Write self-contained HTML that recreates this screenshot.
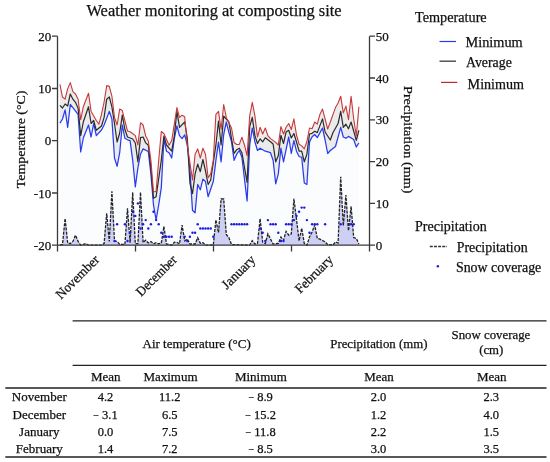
<!DOCTYPE html>
<html><head><meta charset="utf-8"><style>
html,body{margin:0;padding:0;background:#fff;}
svg{display:block;}
text{font-family:'Liberation Serif', 'DejaVu Serif', serif;fill:#111;stroke:#111;stroke-width:0.25px;}
</style></head><body>
<svg width="550" height="462" viewBox="0 0 550 462">
<rect width="550" height="462" fill="#fff"/>
<polygon points="59.9,123.2 62.5,119.0 65.1,109.8 67.7,127.3 70.3,104.5 72.9,107.6 78.1,114.4 80.7,152.0 83.3,138.0 88.5,125.0 91.1,137.0 93.7,123.5 96.3,135.6 101.5,130.0 104.1,125.0 109.3,111.4 111.9,119.0 114.5,158.0 117.1,166.4 119.7,152.7 122.3,125.0 124.9,138.3 127.5,139.8 130.1,140.6 132.7,160.3 135.3,186.8 137.9,167.9 140.5,154.2 143.1,148.9 148.3,151.5 150.9,174.0 153.5,205.0 156.1,219.9 158.7,205.0 161.3,187.6 163.9,139.0 166.5,151.2 169.1,152.7 171.7,158.0 174.3,139.0 176.9,125.8 179.5,135.6 182.1,138.6 184.7,134.8 187.3,145.0 189.9,169.4 192.5,210.5 195.1,212.8 197.7,184.5 200.3,189.8 202.9,179.2 205.5,181.5 208.1,196.7 213.3,181.5 215.9,160.3 218.5,142.0 221.1,161.8 223.7,134.5 226.3,122.0 228.9,132.6 231.5,141.7 234.1,160.3 236.7,154.2 239.3,150.5 241.9,157.3 247.1,201.0 249.7,145.2 252.3,128.0 254.9,141.7 257.5,150.5 260.1,148.2 265.3,151.2 270.5,152.7 273.1,160.3 275.7,183.8 278.3,173.9 280.9,148.2 283.5,161.8 288.7,137.0 291.3,153.5 293.9,140.6 296.5,151.2 299.1,156.5 301.7,157.3 304.3,183.0 306.9,184.5 309.5,142.1 312.1,136.8 314.7,134.5 317.3,137.6 322.5,128.0 325.1,140.0 327.7,153.5 330.3,150.5 335.5,146.5 340.7,127.3 343.3,137.0 345.9,138.3 348.5,136.4 353.7,139.5 356.3,147.0 358.9,143.0 358.9,245.2 59.9,245.2" fill="#fafcfe"/>
<polygon points="59.9,84.4 62.5,97.0 65.1,99.2 67.7,88.6 70.3,82.6 72.9,91.7 75.5,94.0 78.1,99.2 80.7,119.7 83.3,106.8 88.5,93.2 91.1,111.4 96.3,120.5 98.9,124.2 101.5,114.4 104.1,102.0 106.7,85.6 109.3,86.4 111.9,96.2 114.5,117.4 117.1,125.0 119.7,109.1 122.3,110.6 127.5,131.0 130.1,131.8 135.3,135.6 137.9,145.0 140.5,122.7 143.1,125.0 145.7,136.0 148.3,141.0 150.9,160.3 153.5,192.0 156.1,191.4 158.7,160.3 161.3,131.5 163.9,133.5 169.1,145.2 171.7,140.6 176.9,107.6 179.5,117.4 182.1,115.2 184.7,116.7 187.3,145.0 192.5,180.0 195.1,154.2 197.7,148.9 200.3,158.0 202.9,148.2 205.5,154.2 208.1,177.7 210.7,173.9 213.3,160.3 215.9,114.4 218.5,111.4 221.1,129.5 223.7,104.5 226.3,117.4 231.5,128.0 234.1,142.5 236.7,144.5 239.3,144.4 241.9,137.3 244.5,145.0 247.1,155.8 249.7,115.9 252.3,102.3 254.9,115.9 257.5,137.0 260.1,127.3 262.7,134.0 265.3,128.0 267.9,135.6 270.5,138.6 275.7,142.4 278.3,145.2 280.9,126.5 283.5,134.0 286.1,127.3 288.7,123.5 291.3,129.5 293.9,118.9 296.5,135.0 299.1,144.2 301.7,145.9 304.3,148.9 306.9,141.5 309.5,128.0 312.1,128.8 314.7,122.0 317.3,124.2 319.9,114.4 322.5,109.1 325.1,119.0 327.7,129.0 330.3,122.0 335.5,107.6 338.1,103.0 340.7,96.2 343.3,112.9 345.9,106.1 348.5,119.7 351.1,96.2 353.7,119.0 356.3,136.0 358.9,106.8 358.9,143.0 356.3,147.0 353.7,139.5 348.5,136.4 345.9,138.3 343.3,137.0 340.7,127.3 335.5,146.5 330.3,150.5 327.7,153.5 325.1,140.0 322.5,128.0 317.3,137.6 314.7,134.5 312.1,136.8 309.5,142.1 306.9,184.5 304.3,183.0 301.7,157.3 299.1,156.5 296.5,151.2 293.9,140.6 291.3,153.5 288.7,137.0 283.5,161.8 280.9,148.2 278.3,173.9 275.7,183.8 273.1,160.3 270.5,152.7 265.3,151.2 260.1,148.2 257.5,150.5 254.9,141.7 252.3,128.0 249.7,145.2 247.1,201.0 241.9,157.3 239.3,150.5 236.7,154.2 234.1,160.3 231.5,141.7 228.9,132.6 226.3,122.0 223.7,134.5 221.1,161.8 218.5,142.0 215.9,160.3 213.3,181.5 208.1,196.7 205.5,181.5 202.9,179.2 200.3,189.8 197.7,184.5 195.1,212.8 192.5,210.5 189.9,169.4 187.3,145.0 184.7,134.8 182.1,138.6 179.5,135.6 176.9,125.8 174.3,139.0 171.7,158.0 169.1,152.7 166.5,151.2 163.9,139.0 161.3,187.6 158.7,205.0 156.1,219.9 153.5,205.0 150.9,174.0 148.3,151.5 143.1,148.9 140.5,154.2 137.9,167.9 135.3,186.8 132.7,160.3 130.1,140.6 127.5,139.8 124.9,138.3 122.3,125.0 119.7,152.7 117.1,166.4 114.5,158.0 111.9,119.0 109.3,111.4 104.1,125.0 101.5,130.0 96.3,135.6 93.7,123.5 91.1,137.0 88.5,125.0 83.3,138.0 80.7,152.0 78.1,114.4 72.9,107.6 70.3,104.5 67.7,127.3 65.1,109.8 62.5,119.0 59.9,123.2" fill="#ebebeb"/>
<polygon points="59.9,245.2 62.5,244.5 65.1,218.5 67.7,243.2 70.3,243.5 72.9,241.4 75.5,235.2 78.1,241.4 80.7,245.2 85.9,243.6 88.5,245.2 101.5,245.2 104.1,243.6 106.7,213.2 109.3,241.5 111.9,191.4 114.5,241.0 117.1,241.4 119.7,244.4 124.9,244.4 127.5,208.4 130.1,242.6 132.7,192.3 135.3,243.6 137.9,243.6 140.5,192.3 143.1,242.5 145.7,240.2 148.3,243.0 150.9,241.6 153.5,243.8 156.1,242.7 158.7,243.8 161.3,243.2 163.9,226.5 166.5,244.0 171.7,245.2 174.3,242.2 176.9,242.4 179.5,243.8 182.1,225.0 184.7,240.9 187.3,239.0 189.9,244.0 195.1,244.0 197.7,237.7 200.3,243.2 202.9,242.6 205.5,245.2 213.3,245.0 215.9,219.9 218.5,232.6 221.1,199.0 223.7,199.0 226.3,234.5 228.9,237.7 231.5,244.5 249.7,245.2 252.3,240.6 254.9,244.0 257.5,243.5 260.1,218.8 262.7,242.2 265.3,243.5 267.9,233.9 273.1,244.0 278.3,243.5 280.9,237.1 283.5,240.3 286.1,231.4 288.7,235.2 291.3,233.9 293.9,198.7 296.5,219.3 299.1,240.9 301.7,228.2 304.3,243.5 306.9,245.2 309.5,237.0 312.1,232.0 314.7,224.9 317.3,238.4 319.9,239.2 325.1,241.8 327.7,244.6 332.9,245.0 335.5,242.0 338.1,243.0 340.7,176.8 343.3,225.7 345.9,195.0 348.5,230.8 351.1,206.3 353.7,237.5 356.3,238.4 358.9,244.0 358.9,245.2 59.9,245.2" fill="#cdcff5"/>
<polyline points="59.9,123.2 62.5,119.0 65.1,109.8 67.7,127.3 70.3,104.5 72.9,107.6 78.1,114.4 80.7,152.0 83.3,138.0 88.5,125.0 91.1,137.0 93.7,123.5 96.3,135.6 101.5,130.0 104.1,125.0 109.3,111.4 111.9,119.0 114.5,158.0 117.1,166.4 119.7,152.7 122.3,125.0 124.9,138.3 127.5,139.8 130.1,140.6 132.7,160.3 135.3,186.8 137.9,167.9 140.5,154.2 143.1,148.9 148.3,151.5 150.9,174.0 153.5,205.0 156.1,219.9 158.7,205.0 161.3,187.6 163.9,139.0 166.5,151.2 169.1,152.7 171.7,158.0 174.3,139.0 176.9,125.8 179.5,135.6 182.1,138.6 184.7,134.8 187.3,145.0 189.9,169.4 192.5,210.5 195.1,212.8 197.7,184.5 200.3,189.8 202.9,179.2 205.5,181.5 208.1,196.7 213.3,181.5 215.9,160.3 218.5,142.0 221.1,161.8 223.7,134.5 226.3,122.0 228.9,132.6 231.5,141.7 234.1,160.3 236.7,154.2 239.3,150.5 241.9,157.3 247.1,201.0 249.7,145.2 252.3,128.0 254.9,141.7 257.5,150.5 260.1,148.2 265.3,151.2 270.5,152.7 273.1,160.3 275.7,183.8 278.3,173.9 280.9,148.2 283.5,161.8 288.7,137.0 291.3,153.5 293.9,140.6 296.5,151.2 299.1,156.5 301.7,157.3 304.3,183.0 306.9,184.5 309.5,142.1 312.1,136.8 314.7,134.5 317.3,137.6 322.5,128.0 325.1,140.0 327.7,153.5 330.3,150.5 335.5,146.5 340.7,127.3 343.3,137.0 345.9,138.3 348.5,136.4 353.7,139.5 356.3,147.0 358.9,143.0" fill="none" stroke="#2a3cf0" stroke-width="1.25" stroke-linejoin="round"/>
<polyline points="59.9,105.3 62.5,108.0 65.1,104.0 67.7,106.0 70.3,94.0 72.9,99.2 75.5,102.3 78.1,108.3 80.7,135.6 83.3,122.0 88.5,106.8 91.1,123.5 93.7,120.5 96.3,130.3 101.5,126.0 104.1,117.4 106.7,99.2 109.3,97.0 111.9,106.8 114.5,123.5 117.1,142.0 119.7,133.0 122.3,115.2 124.9,129.5 127.5,137.0 132.7,139.0 135.3,143.0 137.9,161.8 140.5,137.6 143.1,137.0 145.7,142.9 148.3,145.2 150.9,167.9 153.5,198.2 156.1,196.7 161.3,160.3 163.9,136.0 166.5,145.0 171.7,151.2 174.3,136.0 176.9,111.4 179.5,127.3 184.7,122.0 187.3,138.0 189.9,183.0 192.5,193.6 195.1,173.9 197.7,164.1 200.3,171.7 202.9,159.5 205.5,170.9 208.1,184.5 210.7,180.0 215.9,145.2 218.5,121.0 221.1,145.0 223.7,116.2 228.9,122.0 231.5,138.6 234.1,153.5 236.7,149.7 239.3,148.2 241.9,152.7 247.1,182.3 249.7,126.5 252.3,117.4 254.9,135.6 257.5,143.5 260.1,138.8 262.7,141.9 265.3,137.7 270.5,141.7 273.1,144.0 275.7,161.8 278.3,155.8 280.9,135.3 283.5,143.5 286.1,132.0 288.7,130.3 291.3,138.0 293.9,133.5 296.5,142.0 299.1,151.2 301.7,151.2 304.3,161.8 306.9,154.2 309.5,134.0 312.1,133.3 314.7,131.3 317.3,132.6 322.5,118.9 325.1,132.0 330.3,140.0 332.9,132.8 338.1,123.5 340.7,111.4 343.3,127.3 345.9,124.2 348.5,128.8 351.1,122.0 356.3,140.4 358.9,130.3" fill="none" stroke="#2b2b2b" stroke-width="1.2" stroke-linejoin="round"/>
<polyline points="59.9,84.4 62.5,97.0 65.1,99.2 67.7,88.6 70.3,82.6 72.9,91.7 75.5,94.0 78.1,99.2 80.7,119.7 83.3,106.8 88.5,93.2 91.1,111.4 96.3,120.5 98.9,124.2 101.5,114.4 104.1,102.0 106.7,85.6 109.3,86.4 111.9,96.2 114.5,117.4 117.1,125.0 119.7,109.1 122.3,110.6 127.5,131.0 130.1,131.8 135.3,135.6 137.9,145.0 140.5,122.7 143.1,125.0 145.7,136.0 148.3,141.0 150.9,160.3 153.5,192.0 156.1,191.4 158.7,160.3 161.3,131.5 163.9,133.5 169.1,145.2 171.7,140.6 176.9,107.6 179.5,117.4 182.1,115.2 184.7,116.7 187.3,145.0 192.5,180.0 195.1,154.2 197.7,148.9 200.3,158.0 202.9,148.2 205.5,154.2 208.1,177.7 210.7,173.9 213.3,160.3 215.9,114.4 218.5,111.4 221.1,129.5 223.7,104.5 226.3,117.4 231.5,128.0 234.1,142.5 236.7,144.5 239.3,144.4 241.9,137.3 244.5,145.0 247.1,155.8 249.7,115.9 252.3,102.3 254.9,115.9 257.5,137.0 260.1,127.3 262.7,134.0 265.3,128.0 267.9,135.6 270.5,138.6 275.7,142.4 278.3,145.2 280.9,126.5 283.5,134.0 286.1,127.3 288.7,123.5 291.3,129.5 293.9,118.9 296.5,135.0 299.1,144.2 301.7,145.9 304.3,148.9 306.9,141.5 309.5,128.0 312.1,128.8 314.7,122.0 317.3,124.2 319.9,114.4 322.5,109.1 325.1,119.0 327.7,129.0 330.3,122.0 335.5,107.6 338.1,103.0 340.7,96.2 343.3,112.9 345.9,106.1 348.5,119.7 351.1,96.2 353.7,119.0 356.3,136.0 358.9,106.8" fill="none" stroke="#c8383a" stroke-width="1.1" stroke-linejoin="round"/>
<polyline points="59.9,245.2 62.5,244.5 65.1,218.5 67.7,243.2 70.3,243.5 72.9,241.4 75.5,235.2 78.1,241.4 80.7,245.2 85.9,243.6 88.5,245.2 101.5,245.2 104.1,243.6 106.7,213.2 109.3,241.5 111.9,191.4 114.5,241.0 117.1,241.4 119.7,244.4 124.9,244.4 127.5,208.4 130.1,242.6 132.7,192.3 135.3,243.6 137.9,243.6 140.5,192.3 143.1,242.5 145.7,240.2 148.3,243.0 150.9,241.6 153.5,243.8 156.1,242.7 158.7,243.8 161.3,243.2 163.9,226.5 166.5,244.0 171.7,245.2 174.3,242.2 176.9,242.4 179.5,243.8 182.1,225.0 184.7,240.9 187.3,239.0 189.9,244.0 195.1,244.0 197.7,237.7 200.3,243.2 202.9,242.6 205.5,245.2 213.3,245.0 215.9,219.9 218.5,232.6 221.1,199.0 223.7,199.0 226.3,234.5 228.9,237.7 231.5,244.5 249.7,245.2 252.3,240.6 254.9,244.0 257.5,243.5 260.1,218.8 262.7,242.2 265.3,243.5 267.9,233.9 273.1,244.0 278.3,243.5 280.9,237.1 283.5,240.3 286.1,231.4 288.7,235.2 291.3,233.9 293.9,198.7 296.5,219.3 299.1,240.9 301.7,228.2 304.3,243.5 306.9,245.2 309.5,237.0 312.1,232.0 314.7,224.9 317.3,238.4 319.9,239.2 325.1,241.8 327.7,244.6 332.9,245.0 335.5,242.0 338.1,243.0 340.7,176.8 343.3,225.7 345.9,195.0 348.5,230.8 351.1,206.3 353.7,237.5 356.3,238.4 358.9,244.0" fill="none" stroke="#222" stroke-width="1.3" stroke-dasharray="3,1.2"/>
<circle cx="114.5" cy="241.0" r="1.2" fill="#1a1ae6"/>
<circle cx="117.1" cy="224.3" r="1.2" fill="#1a1ae6"/>
<circle cx="124.9" cy="224.3" r="1.2" fill="#1a1ae6"/>
<circle cx="127.5" cy="241.0" r="1.2" fill="#1a1ae6"/>
<circle cx="130.1" cy="232.7" r="1.2" fill="#1a1ae6"/>
<circle cx="132.7" cy="211.8" r="1.2" fill="#1a1ae6"/>
<circle cx="135.3" cy="215.9" r="1.2" fill="#1a1ae6"/>
<circle cx="137.9" cy="203.4" r="1.2" fill="#1a1ae6"/>
<circle cx="140.5" cy="228.5" r="1.2" fill="#1a1ae6"/>
<circle cx="143.1" cy="224.3" r="1.2" fill="#1a1ae6"/>
<circle cx="145.7" cy="220.1" r="1.2" fill="#1a1ae6"/>
<circle cx="148.3" cy="228.5" r="1.2" fill="#1a1ae6"/>
<circle cx="150.9" cy="224.3" r="1.2" fill="#1a1ae6"/>
<circle cx="153.5" cy="211.8" r="1.2" fill="#1a1ae6"/>
<circle cx="156.1" cy="220.1" r="1.2" fill="#1a1ae6"/>
<circle cx="158.7" cy="224.3" r="1.2" fill="#1a1ae6"/>
<circle cx="161.3" cy="232.7" r="1.2" fill="#1a1ae6"/>
<circle cx="163.9" cy="236.8" r="1.2" fill="#1a1ae6"/>
<circle cx="166.5" cy="236.8" r="1.2" fill="#1a1ae6"/>
<circle cx="169.1" cy="236.8" r="1.2" fill="#1a1ae6"/>
<circle cx="171.7" cy="236.8" r="1.2" fill="#1a1ae6"/>
<circle cx="184.7" cy="236.8" r="1.2" fill="#1a1ae6"/>
<circle cx="187.3" cy="241.0" r="1.2" fill="#1a1ae6"/>
<circle cx="189.9" cy="236.8" r="1.2" fill="#1a1ae6"/>
<circle cx="192.5" cy="232.7" r="1.2" fill="#1a1ae6"/>
<circle cx="195.1" cy="232.7" r="1.2" fill="#1a1ae6"/>
<circle cx="197.7" cy="224.3" r="1.2" fill="#1a1ae6"/>
<circle cx="200.3" cy="228.5" r="1.2" fill="#1a1ae6"/>
<circle cx="202.9" cy="228.5" r="1.2" fill="#1a1ae6"/>
<circle cx="205.5" cy="228.5" r="1.2" fill="#1a1ae6"/>
<circle cx="208.1" cy="228.5" r="1.2" fill="#1a1ae6"/>
<circle cx="210.7" cy="228.5" r="1.2" fill="#1a1ae6"/>
<circle cx="213.3" cy="236.8" r="1.2" fill="#1a1ae6"/>
<circle cx="231.5" cy="224.3" r="1.2" fill="#1a1ae6"/>
<circle cx="234.1" cy="224.3" r="1.2" fill="#1a1ae6"/>
<circle cx="236.7" cy="224.3" r="1.2" fill="#1a1ae6"/>
<circle cx="239.3" cy="224.3" r="1.2" fill="#1a1ae6"/>
<circle cx="241.9" cy="224.3" r="1.2" fill="#1a1ae6"/>
<circle cx="244.5" cy="224.3" r="1.2" fill="#1a1ae6"/>
<circle cx="247.1" cy="224.3" r="1.2" fill="#1a1ae6"/>
<circle cx="260.1" cy="228.5" r="1.2" fill="#1a1ae6"/>
<circle cx="262.7" cy="232.7" r="1.2" fill="#1a1ae6"/>
<circle cx="265.3" cy="241.0" r="1.2" fill="#1a1ae6"/>
<circle cx="267.9" cy="220.1" r="1.2" fill="#1a1ae6"/>
<circle cx="270.5" cy="224.3" r="1.2" fill="#1a1ae6"/>
<circle cx="273.1" cy="224.3" r="1.2" fill="#1a1ae6"/>
<circle cx="275.7" cy="224.3" r="1.2" fill="#1a1ae6"/>
<circle cx="278.3" cy="232.7" r="1.2" fill="#1a1ae6"/>
<circle cx="280.9" cy="241.0" r="1.2" fill="#1a1ae6"/>
<circle cx="283.5" cy="241.0" r="1.2" fill="#1a1ae6"/>
<circle cx="286.1" cy="224.3" r="1.2" fill="#1a1ae6"/>
<circle cx="288.7" cy="224.3" r="1.2" fill="#1a1ae6"/>
<circle cx="291.3" cy="224.3" r="1.2" fill="#1a1ae6"/>
<circle cx="293.9" cy="220.1" r="1.2" fill="#1a1ae6"/>
<circle cx="296.5" cy="215.9" r="1.2" fill="#1a1ae6"/>
<circle cx="299.1" cy="211.8" r="1.2" fill="#1a1ae6"/>
<circle cx="301.7" cy="207.6" r="1.2" fill="#1a1ae6"/>
<circle cx="304.3" cy="207.6" r="1.2" fill="#1a1ae6"/>
<circle cx="306.9" cy="220.1" r="1.2" fill="#1a1ae6"/>
<circle cx="309.5" cy="232.7" r="1.2" fill="#1a1ae6"/>
<circle cx="312.1" cy="224.3" r="1.2" fill="#1a1ae6"/>
<circle cx="314.7" cy="224.3" r="1.2" fill="#1a1ae6"/>
<circle cx="317.3" cy="224.3" r="1.2" fill="#1a1ae6"/>
<circle cx="325.1" cy="224.3" r="1.2" fill="#1a1ae6"/>
<circle cx="340.7" cy="224.3" r="1.2" fill="#1a1ae6"/>
<circle cx="351.1" cy="224.3" r="1.2" fill="#1a1ae6"/>
<circle cx="353.7" cy="224.3" r="1.2" fill="#1a1ae6"/>
<path d="M57.5,36.2 V251.5 M369.5,36.2 V251.5 M57.5,245.2 H369.5" stroke="#3a3a3a" stroke-width="1.3" fill="none"/>
<path d="M52,36.2 H57.5 M52,88.5 H57.5 M52,140.7 H57.5 M52,193 H57.5 M52,245.2 H57.5 M369.5,36.2 H375 M369.5,78 H375 M369.5,119.8 H375 M369.5,161.6 H375 M369.5,203.4 H375 M369.5,245.2 H375 M135.5,245.2 V251.5 M213.5,245.2 V251.5 M291.5,245.2 V251.5" stroke="#3a3a3a" stroke-width="1.3" fill="none"/>
<text x="51.2" y="40.7" font-size="13" text-anchor="end">20</text>
<text x="51.2" y="93.0" font-size="13" text-anchor="end">10</text>
<text x="51.2" y="145.2" font-size="13" text-anchor="end">0</text>
<text x="51.2" y="197.5" font-size="13" text-anchor="end">-10</text>
<text x="51.2" y="249.7" font-size="13" text-anchor="end">-20</text>
<text x="375.8" y="40.7" font-size="13">50</text>
<text x="375.8" y="82.5" font-size="13">40</text>
<text x="375.8" y="124.3" font-size="13">30</text>
<text x="375.8" y="166.1" font-size="13">20</text>
<text x="375.8" y="207.9" font-size="13">10</text>
<text x="375.8" y="249.7" font-size="13">0</text>
<text x="86.4" y="15.8" font-size="17" textLength="255.2" lengthAdjust="spacingAndGlyphs">Weather monitoring at composting site</text>
<text transform="translate(25.3,188.3) rotate(-90)" font-size="13" textLength="97.8" lengthAdjust="spacingAndGlyphs">Temperature (°C)</text>
<text transform="translate(404.1,86) rotate(90)" font-size="13" textLength="107.5" lengthAdjust="spacingAndGlyphs">Precipitation (mm)</text>
<text transform="translate(100.2,260.5) rotate(-45)" font-size="13.5" text-anchor="end" textLength="55.5" lengthAdjust="spacingAndGlyphs">November</text>
<text transform="translate(177.7,260.5) rotate(-45)" font-size="13.5" text-anchor="end" textLength="51.5" lengthAdjust="spacingAndGlyphs">December</text>
<text transform="translate(256.2,260.6) rotate(-45)" font-size="13.5" text-anchor="end" textLength="41.5" lengthAdjust="spacingAndGlyphs">January</text>
<text transform="translate(333.8,260.5) rotate(-45)" font-size="13.5" text-anchor="end" textLength="47.5" lengthAdjust="spacingAndGlyphs">February</text>
<text x="415" y="22.4" font-size="14.5" textLength="71.7" lengthAdjust="spacingAndGlyphs">Temperature</text>
<path d="M439.5,41.5 H456" stroke="#2a3cf0" stroke-width="1.2"/>
<text x="465.5" y="46.9" font-size="14" textLength="57.2" lengthAdjust="spacingAndGlyphs">Minimum</text>
<path d="M439.5,61.2 H456" stroke="#555" stroke-width="1.5"/>
<text x="466" y="66.8" font-size="14" textLength="45.8" lengthAdjust="spacingAndGlyphs">Average</text>
<path d="M441,82.4 H457.3" stroke="#c0282a" stroke-width="1.2"/>
<text x="467.6" y="89.2" font-size="14" textLength="56.4" lengthAdjust="spacingAndGlyphs">Minimum</text>
<text x="415" y="230.5" font-size="14.5" textLength="71.7" lengthAdjust="spacingAndGlyphs">Precipitation</text>
<path d="M429.8,246.4 H447" stroke="#333" stroke-width="1.5" stroke-dasharray="3,1.15"/>
<text x="456.7" y="251.8" font-size="14" textLength="70.9" lengthAdjust="spacingAndGlyphs">Precipitation</text>
<circle cx="437.9" cy="266.3" r="1.2" fill="#1a1ae6"/>
<text x="455.9" y="272.3" font-size="14" textLength="85.4" lengthAdjust="spacingAndGlyphs">Snow coverage</text>
<path d="M72.6,320.8 H546.5 M72.6,365.3 H546.5 M5.3,388 H546.5 M5.3,457 H546.5" stroke="#222" stroke-width="1.3"/>
<text x="142.5" y="347.6" font-size="13" textLength="108.3" lengthAdjust="spacingAndGlyphs">Air temperature (°C)</text>
<text x="330.3" y="347.6" font-size="13" textLength="97.1" lengthAdjust="spacingAndGlyphs">Precipitation (mm)</text>
<text x="451.5" y="339.4" font-size="13" textLength="78.8" lengthAdjust="spacingAndGlyphs">Snow coverage</text>
<text x="479.2" y="354.2" font-size="13" textLength="24.1" lengthAdjust="spacingAndGlyphs">(cm)</text>
<text x="105.7" y="381.3" font-size="13" text-anchor="middle">Mean</text>
<text x="170.5" y="381.3" font-size="13" text-anchor="middle">Maximum</text>
<text x="260.9" y="381.3" font-size="13" text-anchor="middle">Minimum</text>
<text x="379" y="381.3" font-size="13" text-anchor="middle">Mean</text>
<text x="491.8" y="381.3" font-size="13" text-anchor="middle">Mean</text>
<text x="39.3" y="401.3" font-size="13" text-anchor="middle">November</text>
<text x="105.5" y="401.3" font-size="12.5" text-anchor="middle">4.2</text>
<text x="169.7" y="401.3" font-size="12.5" text-anchor="middle">11.2</text>
<text x="260.6" y="401.3" font-size="12.5" text-anchor="middle"><tspan font-size="10">−</tspan> 8.9</text>
<text x="378.5" y="401.3" font-size="12.5" text-anchor="middle">2.0</text>
<text x="491.3" y="401.3" font-size="12.5" text-anchor="middle">2.3</text>
<text x="39.3" y="418.5" font-size="13" text-anchor="middle">December</text>
<text x="105.5" y="418.5" font-size="12.5" text-anchor="middle"><tspan font-size="10">−</tspan> 3.1</text>
<text x="169.7" y="418.5" font-size="12.5" text-anchor="middle">6.5</text>
<text x="260.6" y="418.5" font-size="12.5" text-anchor="middle"><tspan font-size="10">−</tspan> 15.2</text>
<text x="378.5" y="418.5" font-size="12.5" text-anchor="middle">1.2</text>
<text x="491.3" y="418.5" font-size="12.5" text-anchor="middle">4.0</text>
<text x="39.3" y="435.5" font-size="13" text-anchor="middle">January</text>
<text x="105.5" y="435.5" font-size="12.5" text-anchor="middle">0.0</text>
<text x="169.7" y="435.5" font-size="12.5" text-anchor="middle">7.5</text>
<text x="260.6" y="435.5" font-size="12.5" text-anchor="middle"><tspan font-size="10">−</tspan> 11.8</text>
<text x="378.5" y="435.5" font-size="12.5" text-anchor="middle">2.2</text>
<text x="491.3" y="435.5" font-size="12.5" text-anchor="middle">1.5</text>
<text x="39.3" y="452.6" font-size="13" text-anchor="middle">February</text>
<text x="105.5" y="452.6" font-size="12.5" text-anchor="middle">1.4</text>
<text x="169.7" y="452.6" font-size="12.5" text-anchor="middle">7.2</text>
<text x="260.6" y="452.6" font-size="12.5" text-anchor="middle"><tspan font-size="10">−</tspan> 8.5</text>
<text x="378.5" y="452.6" font-size="12.5" text-anchor="middle">3.0</text>
<text x="491.3" y="452.6" font-size="12.5" text-anchor="middle">3.5</text>
</svg></body></html>
